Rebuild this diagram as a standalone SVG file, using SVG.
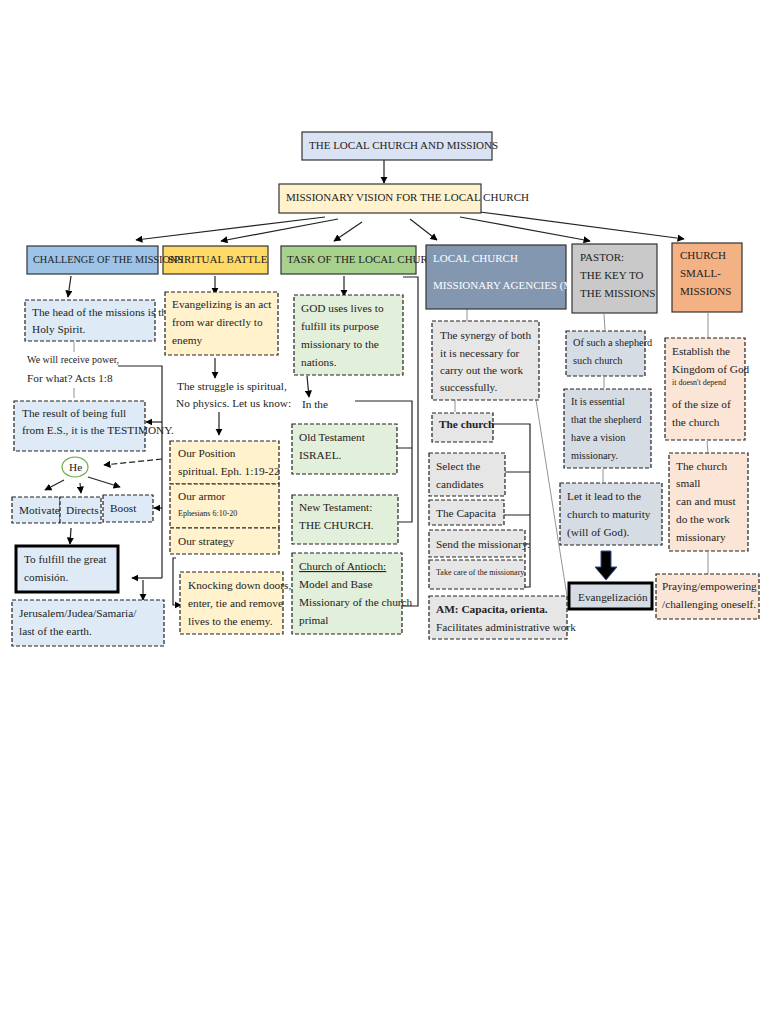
<svg xmlns="http://www.w3.org/2000/svg" width="768" height="1024" viewBox="0 0 768 1024">
<defs>
<marker id="a" viewBox="0 0 10 10" refX="9" refY="5" markerWidth="6" markerHeight="6" orient="auto"><path d="M0,0L10,5L0,10z" fill="#000"/></marker>
<style>
text{font-family:"Liberation Serif",serif;font-size:11.3px;fill:#222}
.h{font-size:11px}
.s{font-size:8px}
.d{stroke:#222;stroke-width:1.2;stroke-dasharray:4,2}
.n{stroke:#333;stroke-width:1.2}
.c{fill:none;stroke:#222;stroke-width:1.2}
.t{fill:none;stroke:#777;stroke-width:0.8}
.blue{fill:#deebf7}.yel{fill:#fff2cc}.grn{fill:#e2efda}.gry{fill:#e7e6e6}.sl{fill:#d6dce4}.pch{fill:#fbe5d6}
</style>
</defs>
<rect width="768" height="1024" fill="#fff"/>
<g id="connectors">
<path class="c" d="M384,160V183" marker-end="url(#a)"/>
<path class="c" d="M325,217L136,240" marker-end="url(#a)"/>
<path class="c" d="M338,219L221,241" marker-end="url(#a)"/>
<path class="c" d="M362,222L334,241" marker-end="url(#a)"/>
<path class="c" d="M410,219L437,240" marker-end="url(#a)"/>
<path class="c" d="M460,217L590,241" marker-end="url(#a)"/>
<path class="c" d="M480,212L684,239" marker-end="url(#a)"/>
<path class="c" d="M71,276L68,297" marker-end="url(#a)"/>
<path class="t" d="M74,342V352M74,388V398"/>
<path class="c" d="M118,366H162V578"/>
<path class="c" d="M162,422H146" marker-end="url(#a)"/>
<path class="c" d="M162,508H154" marker-end="url(#a)"/>
<path class="c" d="M162,578H132" marker-end="url(#a)"/>
<path class="c" d="M143,580V600" marker-end="url(#a)"/>
<path class="c" d="M162,459L104,465" stroke-dasharray="6,3" marker-end="url(#a)"/>
<path class="c" d="M64,480L45,490" marker-end="url(#a)"/>
<path class="c" d="M80,483L81,493" marker-end="url(#a)"/>
<path class="c" d="M88,477L120,487" marker-end="url(#a)"/>
<path class="c" d="M71,528L70,544" marker-end="url(#a)"/>
<path class="c" d="M215,276V294" marker-end="url(#a)"/>
<path class="c" d="M215,358V378" marker-end="url(#a)"/>
<path class="c" d="M219,412V435" marker-end="url(#a)"/>
<path class="c" d="M176,558H173V605H181" marker-end="url(#a)"/>
<path class="c" d="M344,276V296" marker-end="url(#a)"/>
<path class="c" d="M307,376L309,397" marker-end="url(#a)"/>
<path class="c" d="M355,401H412V522H399M397,448H412"/>
<path class="c" d="M403,277H418V606H402"/>
<path class="t" d="M467,309V321M455,400V412M536,400L567,596"/>
<path class="c" d="M493,424H530V587H524M505,472H530M504,515H530M525,544H530"/>
<path class="t" d="M604,314L605,330M604,377V388M603,469V482"/>
<path class="t" d="M708,313V338M707,441L708,453M708,552V574"/>
<path d="M601,551H611V567H617L606,580L595,567H601Z" fill="#000" stroke="#2f5597" stroke-width="1"/>
</g>
<g id="title"><rect x="302" y="132" width="190" height="28" fill="#dae3f3" class="n"/><text x="309" y="149" class="h">THE LOCAL CHURCH AND MISSIONS</text></g>
<g id="vision"><rect x="279" y="184" width="202" height="29" class="yel n"/><text x="286" y="201" class="h">MISSIONARY VISION FOR THE LOCAL CHURCH</text></g>
<g id="challenge"><rect x="27" y="246" width="131" height="28" fill="#9dc3e6" class="n"/></g>
<g id="battle"><rect x="163" y="246" width="105" height="28" fill="#ffd966" class="n"/><text x="168" y="263" class="h">SPIRITUAL BATTLE</text></g>
<text x="33" y="263" class="h" textLength="150" lengthAdjust="spacingAndGlyphs">CHALLENGE OF THE MISSIONS</text>
<g id="task"><rect x="281" y="246" width="135" height="28" fill="#a9d18e" class="n"/><text x="287" y="263" class="h">TASK OF THE LOCAL CHURCH</text></g>
<g id="agencies"><rect x="426" y="245" width="140" height="64" fill="#8497b0" class="n"/><text x="433" y="262" class="h" style="fill:#fff">LOCAL CHURCH</text><text x="433" y="289" class="h" style="fill:#fff">MISSIONARY AGENCIES (MA)</text></g>
<g id="pastor"><rect x="572" y="244" width="85" height="69" fill="#c9c9c9" class="n"/><text x="580" y="261" class="h">PASTOR:</text><text x="580" y="279" class="h">THE KEY TO</text><text x="580" y="297" class="h">THE MISSIONS</text></g>
<g id="small"><rect x="672" y="243" width="70" height="69" fill="#f4b183" class="n"/><text x="680" y="259" class="h">CHURCH</text><text x="680" y="277" class="h">SMALL-</text><text x="680" y="295" class="h">MISSIONS</text></g>

<g id="head"><rect x="25" y="300" width="130" height="41" class="blue d"/><text x="32" y="316">The head of the missions is the</text><text x="32" y="333">Holy Spirit.</text></g>
<g id="power"><text x="27" y="363" style="font-size:10px">We will receive power,</text><text x="27" y="382">For what? Acts 1:8</text></g>
<g id="result"><rect x="14" y="401" width="131" height="50" class="blue d"/><text x="22" y="417">The result of being full</text><text x="22" y="434">from E.S., it is the TESTIMONY.</text></g>
<g id="he"><ellipse cx="75" cy="467" rx="13" ry="10" fill="#fff" stroke="#70ad47" stroke-width="1.2"/><text x="69" y="471">He</text></g>
<g id="motivate"><rect x="12" y="497" width="48" height="26" class="blue d"/><text x="19" y="514">Motivate</text></g>
<g id="directs"><rect x="60" y="497" width="41" height="26" class="blue d"/><text x="66" y="514">Directs</text></g>
<g id="boost"><rect x="103" y="495" width="50" height="27" class="blue d"/><text x="110" y="512">Boost</text></g>
<g id="comision"><rect x="16" y="546" width="102" height="46" class="blue" stroke="#000" stroke-width="3"/><text x="24" y="563">To fulfill the great</text><text x="24" y="581">comisión.</text></g>
<g id="jerusalem"><rect x="12" y="600" width="152" height="46" class="blue d"/><text x="19" y="617">Jerusalem/Judea/Samaria/</text><text x="19" y="635">last of the earth.</text></g>

<g id="evang"><rect x="165" y="292" width="113" height="63" class="yel d"/><text x="172" y="308">Evangelizing is an act</text><text x="172" y="326">from war directly to</text><text x="172" y="344">enemy</text></g>
<g id="struggle"><text x="177" y="390">The struggle is spiritual,</text><text x="176" y="407">No physics. Let us know:</text></g>
<g id="position"><rect x="170" y="441" width="109" height="43" class="yel d"/><text x="178" y="457">Our Position</text><text x="178" y="475">spiritual. Eph. 1:19-22</text></g>
<g id="armor"><rect x="170" y="484" width="109" height="44" class="yel d"/><text x="178" y="500">Our armor</text><text x="178" y="516" class="s">Ephesians 6:10-20</text></g>
<g id="strategy"><rect x="170" y="528" width="109" height="26" class="yel d"/><text x="178" y="545">Our strategy</text></g>
<g id="knocking"><rect x="180" y="572" width="103" height="62" class="yel d"/><text x="188" y="589">Knocking down doors,</text><text x="188" y="607">enter, tie and remove</text><text x="188" y="625">lives to the enemy.</text></g>

<g id="god"><rect x="294" y="295" width="109" height="80" class="grn d"/><text x="301" y="312">GOD uses lives to</text><text x="301" y="330">fulfill its purpose</text><text x="301" y="348">missionary to the</text><text x="301" y="366">nations.</text></g>
<g id="inthe"><text x="302" y="408">In the</text></g>
<g id="old"><rect x="292" y="424" width="105" height="50" class="grn d"/><text x="299" y="441">Old Testament</text><text x="299" y="459">ISRAEL.</text></g>
<g id="new"><rect x="292" y="495" width="106" height="49" class="grn d"/><text x="299" y="511">New Testament:</text><text x="299" y="529">THE CHURCH.</text></g>
<g id="antioch"><rect x="292" y="553" width="110" height="81" class="grn d"/><text x="299" y="570" text-decoration="underline">Church of Antioch:</text><text x="299" y="588">Model and Base</text><text x="299" y="606">Missionary of the church</text><text x="299" y="624">primal</text></g>

<g id="synergy"><rect x="432" y="321" width="107" height="79" class="gry d"/><text x="440" y="339">The synergy of both</text><text x="440" y="357">it is necessary for</text><text x="440" y="374">carry out the work</text><text x="440" y="391">successfully.</text></g>
<g id="church"><rect x="432" y="413" width="61" height="29" class="gry d"/><text x="439" y="428" font-weight="bold">The church</text></g>
<g id="select"><rect x="429" y="453" width="76" height="43" class="gry d"/><text x="436" y="470">Select the</text><text x="436" y="488">candidates</text></g>
<g id="capacita"><rect x="429" y="500" width="75" height="25" class="gry d"/><text x="436" y="517">The Capacita</text></g>
<g id="send"><rect x="429" y="530" width="96" height="27" class="gry d"/><text x="436" y="548">Send the missionary.</text></g>
<g id="take"><rect x="429" y="560" width="96" height="29" class="gry d"/><text x="436" y="575" class="s">Take care of the missionary.</text></g>
<g id="am"><rect x="429" y="596" width="138" height="43" class="gry d"/><text x="436" y="613" font-weight="bold">AM: Capacita, orienta.</text><text x="436" y="631">Facilitates administrative work</text></g>

<g id="shepherd"><rect x="566" y="331" width="79" height="45" class="sl d"/><text x="573" y="346" style="font-size:10.3px">Of such a shepherd</text><text x="573" y="364" style="font-size:10.3px">such church</text></g>
<g id="essential"><rect x="564" y="389" width="87" height="79" class="sl d"/><text x="571" y="405" style="font-size:10.3px">It is essential</text><text x="571" y="423" style="font-size:10.3px">that the shepherd</text><text x="571" y="441" style="font-size:10.3px">have a vision</text><text x="571" y="459" style="font-size:10.3px">missionary.</text></g>
<g id="lead"><rect x="560" y="483" width="102" height="62" class="sl d"/><text x="567" y="500">Let it lead to the</text><text x="567" y="518">church to maturity</text><text x="567" y="536">(will of God).</text></g>
<g id="evangelizacion"><rect x="569" y="583" width="83" height="26" class="sl" stroke="#000" stroke-width="3"/><text x="578" y="601">Evangelización</text></g>

<g id="establish"><rect x="665" y="338" width="80" height="102" class="pch d"/><text x="672" y="355">Establish the</text><text x="672" y="373">Kingdom of God</text><text x="672" y="385" class="s">it doesn't depend</text><text x="672" y="408">of the size of</text><text x="672" y="426">the church</text></g>
<g id="smallchurch"><rect x="669" y="453" width="79" height="98" class="pch d"/><text x="676" y="470">The church</text><text x="676" y="487">small</text><text x="676" y="505">can and must</text><text x="676" y="523">do the work</text><text x="676" y="541">missionary</text></g>
<g id="praying"><rect x="656" y="574" width="103" height="45" class="pch d"/><text x="662" y="590">Praying/empowering</text><text x="662" y="608">/challenging oneself.</text></g>
</svg>
